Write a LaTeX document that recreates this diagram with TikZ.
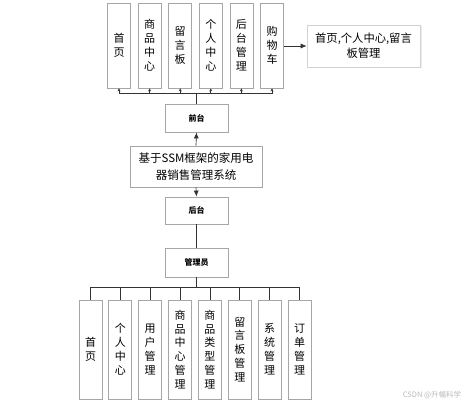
\documentclass[tikz,border=0pt]{standalone}
\usepackage{fontspec}
\setmainfont{Noto Sans CJK SC}
\usetikzlibrary{arrows.meta,shadows}

\begin{document}
\begin{tikzpicture}[x=1pt,y=-1pt,
  vbox/.style={draw=gray!70,line width=0.8pt,minimum width=23pt,inner sep=0pt,
    align=center,font=\fontsize{11}{13.9}\selectfont},
  midbox/.style={draw=gray!70,line width=0.8pt,minimum width=63pt,inner sep=0pt,
    font=\fontsize{8}{9}\selectfont\bfseries},
  link/.style={draw=gray!40!black,line width=0.7pt}]
  \useasboundingbox (0,0) rectangle (474,404);

  % front end modules
  \foreach \i/\t [evaluate={\x=119+(\i-1)*30.6;}] in
    {1/{首\\页},2/{商\\品\\中\\心},3/{留\\言\\板},4/{个\\人\\中\\心},5/{后\\台\\管\\理},6/{购\\物\\车}}{
    \node[vbox,minimum height=85pt] (t\i) at (\x,45.5) {\t};
  }
  \node[draw=gray!35,line width=0.6pt,minimum width=113pt,minimum height=42pt,inner sep=0pt,
    align=center,font=\fontsize{11.3}{15}\selectfont,
    drop shadow={opacity=0.15,shadow xshift=1.5pt,shadow yshift=-1.5pt},fill=white]
    (note) at (363.5,46) {首页,个人中心,留言\\板管理};
  \draw[link,-{Latex[length=6pt,width=5pt]}] (t6.east |- note.west) -- (note.west);

  \node[midbox,minimum height=28pt] (qiantai) at (196.5,118) {前台};
  \node[draw=gray!70,line width=0.8pt,minimum width=132pt,minimum height=41pt,inner sep=0pt,
    align=center,font=\fontsize{11.5}{17}\selectfont]
    (sys) at (196,166.5) {基于SSM框架的家用电\\器销售管理系统};
  \node[midbox,minimum height=27pt] (houtai) at (196.5,210.5) {后台};
  \node[midbox,minimum height=29pt] (admin) at (196.5,262.5) {管理员};

  \coordinate (tbus) at (196.5,93);
  \draw[link] (qiantai.north) -- (tbus);
  \foreach \i in {1,...,6}{
    \draw[link,->,>={Stealth[length=3pt,width=3pt]}] (tbus) -| (t\i.south);
  }
  \draw[link,-{Latex[length=6pt,width=5pt]}] (sys.north) -- (qiantai.south);
  \draw[link,-{Latex[length=6pt,width=5pt]}] (sys.south) -- (houtai.north);
  \draw[link] (houtai.south) -- (admin.north);

  % back end modules
  \foreach \i/\t [evaluate={\x=90.5+(\i-1)*29.86;}] in
    {1/{首\\页},2/{个\\人\\中\\心},3/{用\\户\\管\\理},4/{商\\品\\中\\心\\管\\理},
     5/{商\\品\\类\\型\\管\\理},6/{留\\言\\板\\管\\理},7/{系\\统\\管\\理},8/{订\\单\\管\\理}}{
    \node[vbox,minimum height=99pt] (b\i) at (\x,349.5) {\t};
  }
  \coordinate (bbus) at (196.5,287);
  \draw[link] (admin.south) -- (bbus);
  \foreach \i in {1,...,8}{
    \draw[link] (bbus) -| (b\i.north);
  }

  \node[text=gray!55,font=\fontsize{7.5}{9}\selectfont,inner sep=0pt] (mark) at (432,395) {CSDN @升幅科学};
\end{tikzpicture}
\end{document}
